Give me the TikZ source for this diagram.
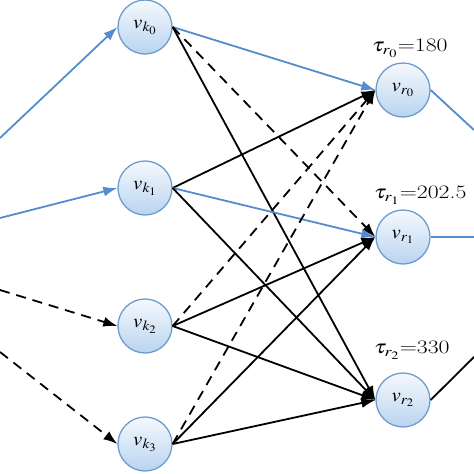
\documentclass[tikz,border=0pt]{standalone}
\usepackage{mathptmx}
\usepackage{graphicx}
\usetikzlibrary{arrows.meta}
\definecolor{linkblue}{RGB}{84,141,205}
\definecolor{rimblue}{RGB}{110,155,205}
\definecolor{fillblue}{RGB}{186,212,240}
\newcommand{\wide}[2][1.25]{\scalebox{#1}[1]{#2}}

\begin{document}
\begin{tikzpicture}[x=1pt, y=-1pt,
	vert/.style={circle, draw=rimblue, line width=1.3pt, minimum size=54pt, inner sep=0pt,
		top color=white!85!fillblue, bottom color=fillblue, font=\fontsize{19}{22}\selectfont},
	lab/.style={anchor=west, inner sep=0pt, font=\fontsize{19}{23}\selectfont},
	link/.style={line width=1.8pt, -{Latex[length=14pt,width=10pt]}},
	bluelink/.style={link, linkblue},
	dashlink/.style={link, dash pattern=on 10pt off 7pt}
]

	\useasboundingbox (0,0) rectangle (474,474);

	\node[vert] (vk0) at (145,27)  {\wide[1.1]{$v_{k_0}$}};
	\node[vert] (vk1) at (145,188) {\wide[1.1]{$v_{k_1}$}};
	\node[vert] (vk2) at (145,326) {\wide[1.1]{$v_{k_2}$}};
	\node[vert] (vk3) at (145,444) {\wide[1.1]{$v_{k_3}$}};
	\node[vert] (vr0) at (403,90)  {\wide[1.1]{$v_{r_0}$}};
	\node[vert] (vr1) at (403,237) {\wide[1.1]{$v_{r_1}$}};
	\node[vert] (vr2) at (403,400) {\wide[1.1]{$v_{r_2}$}};

	\node[lab] (t0) at (372,48)  {\wide{$\tau_{r_0}$=180}};
	\node[lab] (t1) at (374,195) {\wide{$\tau_{r_1}$=202.5}};
	\node[lab] (t2) at (374,350) {\wide{$\tau_{r_2}$=330}};

	\coordinate (in0) at (0,138);
	\coordinate (in1) at (0,218);
	\coordinate (in2) at (0,290);
	\coordinate (in3) at (0,352);
	\coordinate (out0) at (474,130);
	\coordinate (out1) at (474,237);
	\coordinate (out2) at (474,357);

	\draw[bluelink] (in0) -- (vk0.west);
	\draw[bluelink] (in1) -- (vk1.west);
	\draw[dashlink] (in2) -- (vk2.west);
	\draw[dashlink] (in3) -- (vk3.west);

	\draw[bluelink] (vk0.east) -- (vr0.west);
	\draw[dashlink] (vk0.east) -- (vr1.west);
	\draw[link] (vk0.east) -- (vr2.west);
	\draw[link] (vk1.east) -- (vr0.west);
	\draw[bluelink] (vk1.east) -- (vr1.west);
	\draw[link] (vk1.east) -- (vr2.west);
	\draw[dashlink] (vk2.east) -- (vr0.west);
	\draw[link] (vk2.east) -- (vr1.west);
	\draw[link] (vk2.east) -- (vr2.west);
	\draw[dashlink] (vk3.east) -- (vr0.west);
	\draw[link] (vk3.east) -- (vr1.west);
	\draw[link] (vk3.east) -- (vr2.west);

	\draw[line width=1.8pt, linkblue] (vr0.east) -- (out0);
	\draw[line width=1.8pt, linkblue] (vr1.east) -- (out1);
	\draw[line width=1.8pt] (vr2.east) -- (out2);

\end{tikzpicture}
\end{document}
